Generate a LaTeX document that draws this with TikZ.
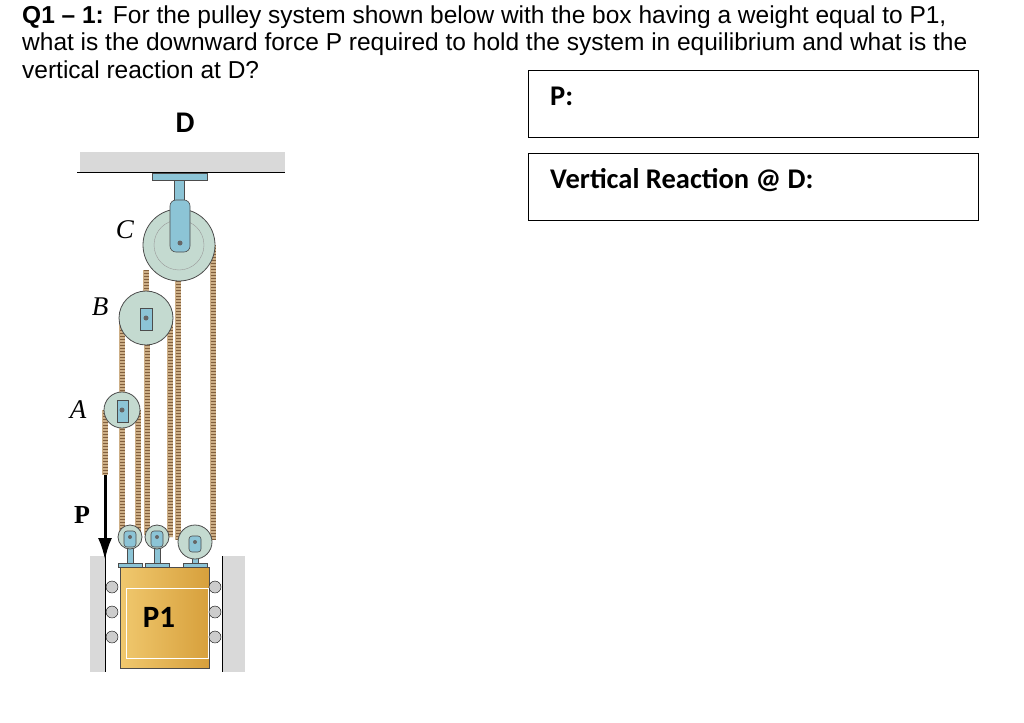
\documentclass[tikz,border=0pt]{standalone}
\usepackage{fontspec}
\usetikzlibrary{arrows.meta}
\setmainfont{Liberation Sans}
\newfontfamily\cali{Carlito}
\newfontfamily\lser{Liberation Serif}
\begin{document}
\begin{tikzpicture}[x=1pt,y=-1pt,
 pul/.style={draw=black!70,line width=0.8pt,fill={rgb,255:red,196;green,218;blue,208}},
 brk/.style={draw=black!70,line width=0.6pt,fill={rgb,255:red,140;green,196;blue,214}},
 rope/.style={line width=6pt,color={rgb,255:red,205;green,175;blue,135}},
 ropex/.style={line width=5pt,color={rgb,255:red,130;green,95;blue,60},dash pattern=on 1pt off 2pt},
 ans/.style={draw,line width=0.8pt},
 lbl/.style={font=\lser\itshape\fontsize{27}{27}\selectfont}]
\useasboundingbox (0,0) rectangle (1024,722);
% text
\node[anchor=base west,font=\fontsize{24.5}{24.5}\selectfont,inner sep=0] (t1) at (22,24) {\textbf{Q1 – 1:} For the pulley system shown below with the box having a weight equal to P1,};
\node[anchor=base west,font=\fontsize{24.5}{24.5}\selectfont,inner sep=0] (t2) at (22,51) {what is the downward force P required to hold the system in equilibrium and what is the};
\node[anchor=base west,font=\fontsize{24.5}{24.5}\selectfont,inner sep=0] (t3) at (22,79) {vertical reaction at D?};
\draw[ans] (528,70) rectangle (978,137);
\draw[ans] (528,153) rectangle (978,220);
\node[anchor=base west,font=\cali\bfseries\fontsize{28.5}{28.5}\selectfont,inner sep=0] (pp) at (550,106) {P:};
\node[anchor=base west,font=\cali\bfseries\fontsize{28.5}{28.5}\selectfont,inner sep=0] (vr) at (550,189) {Vertical Reaction @ D:};
\node[font=\cali\bfseries\fontsize{30}{30}\selectfont] (D) at (185,123) {D};
% ceiling
\fill[black!15] (80,152) rectangle (285,173);
\draw[line width=1pt] (77,173) -- (285,173);
% walls
\fill[black!15] (90,556) rectangle (105,672);
\fill[black!15] (222,556) rectangle (245,672);
\draw[line width=0.8pt] (105,556) -- (105,672);
\draw[line width=0.8pt] (222,556) -- (222,672);
% ropes
\foreach \x/\ya/\yb in {146/270/305, 122/318/405, 170/318/537, 147/330/535, 105/410/475, 138/410/537, 122/420/535, 178/245/540, 213/245/540}{
 \draw[rope] (\x,\ya) -- (\x,\yb);
 \draw[ropex] (\x,\ya) -- (\x,\yb);}
% C
\draw[brk] (152,173) rectangle (207,180);
\draw[brk] (174,180) rectangle (184,200);
\node[pul,circle,minimum size=72pt] (C) at (179,245) {};
\draw[black!40] (C) circle (25);
\draw[brk,rounded corners=6] (170,200) rectangle (190,252);
\fill[black!60] (180,243) circle (2.5);
% B
\node[pul,circle,minimum size=54pt] (B) at (146,318) {};
\draw[brk] (140,308) rectangle (152,330);
\fill[black!60] (146,318) circle (2.5);
% A
\node[pul,circle,minimum size=36pt] (A) at (122,410) {};
\draw[brk] (117,400) rectangle (128,422);
\fill[black!60] (122,410) circle (2.5);
% lower pulleys
\foreach \x/\y/\r in {130/537/12, 157/537/12, 195/542/17}{
 \draw[brk] (\x-3,\y) rectangle (\x+3,563);
 \draw[brk] (\x-12,563) rectangle (\x+12,567);
 \draw[pul] (\x,\y) circle (\r);
 \draw[brk,rounded corners=3] (\x-6,\y-6) rectangle (\x+6,\y+10);
 \fill[black!60] (\x,\y) circle (2);}
% box
\shade[left color={rgb,255:red,240;green,200;blue,110},right color={rgb,255:red,215;green,160;blue,60},draw=black!70] (120,567) rectangle (209,668);
\draw[white,line width=0.8pt] (126,588) rectangle (208,658);
\node[font=\cali\bfseries\fontsize{31}{31}\selectfont] (P1) at (159,617) {P1};
\foreach \y in {587,612,637}{
 \draw[fill=black!20] (112,\y) circle (6);
 \draw[fill=black!20] (215,\y) circle (6);}
% arrow P
\coordinate (pa) at (105,475);
\coordinate (pb) at (105,560);
\draw[line width=3pt,-{Latex[length=22pt,width=14pt]}] (pa) -- (pb);
\node[font=\lser\bfseries\fontsize{26}{26}\selectfont] (P) at (82,515) {P};
\node[lbl] (lC) at (125,230) {C};
\node[lbl] (lB) at (100,307) {B};
\node[lbl] (lA) at (78,410) {A};
\end{tikzpicture}
\end{document}
